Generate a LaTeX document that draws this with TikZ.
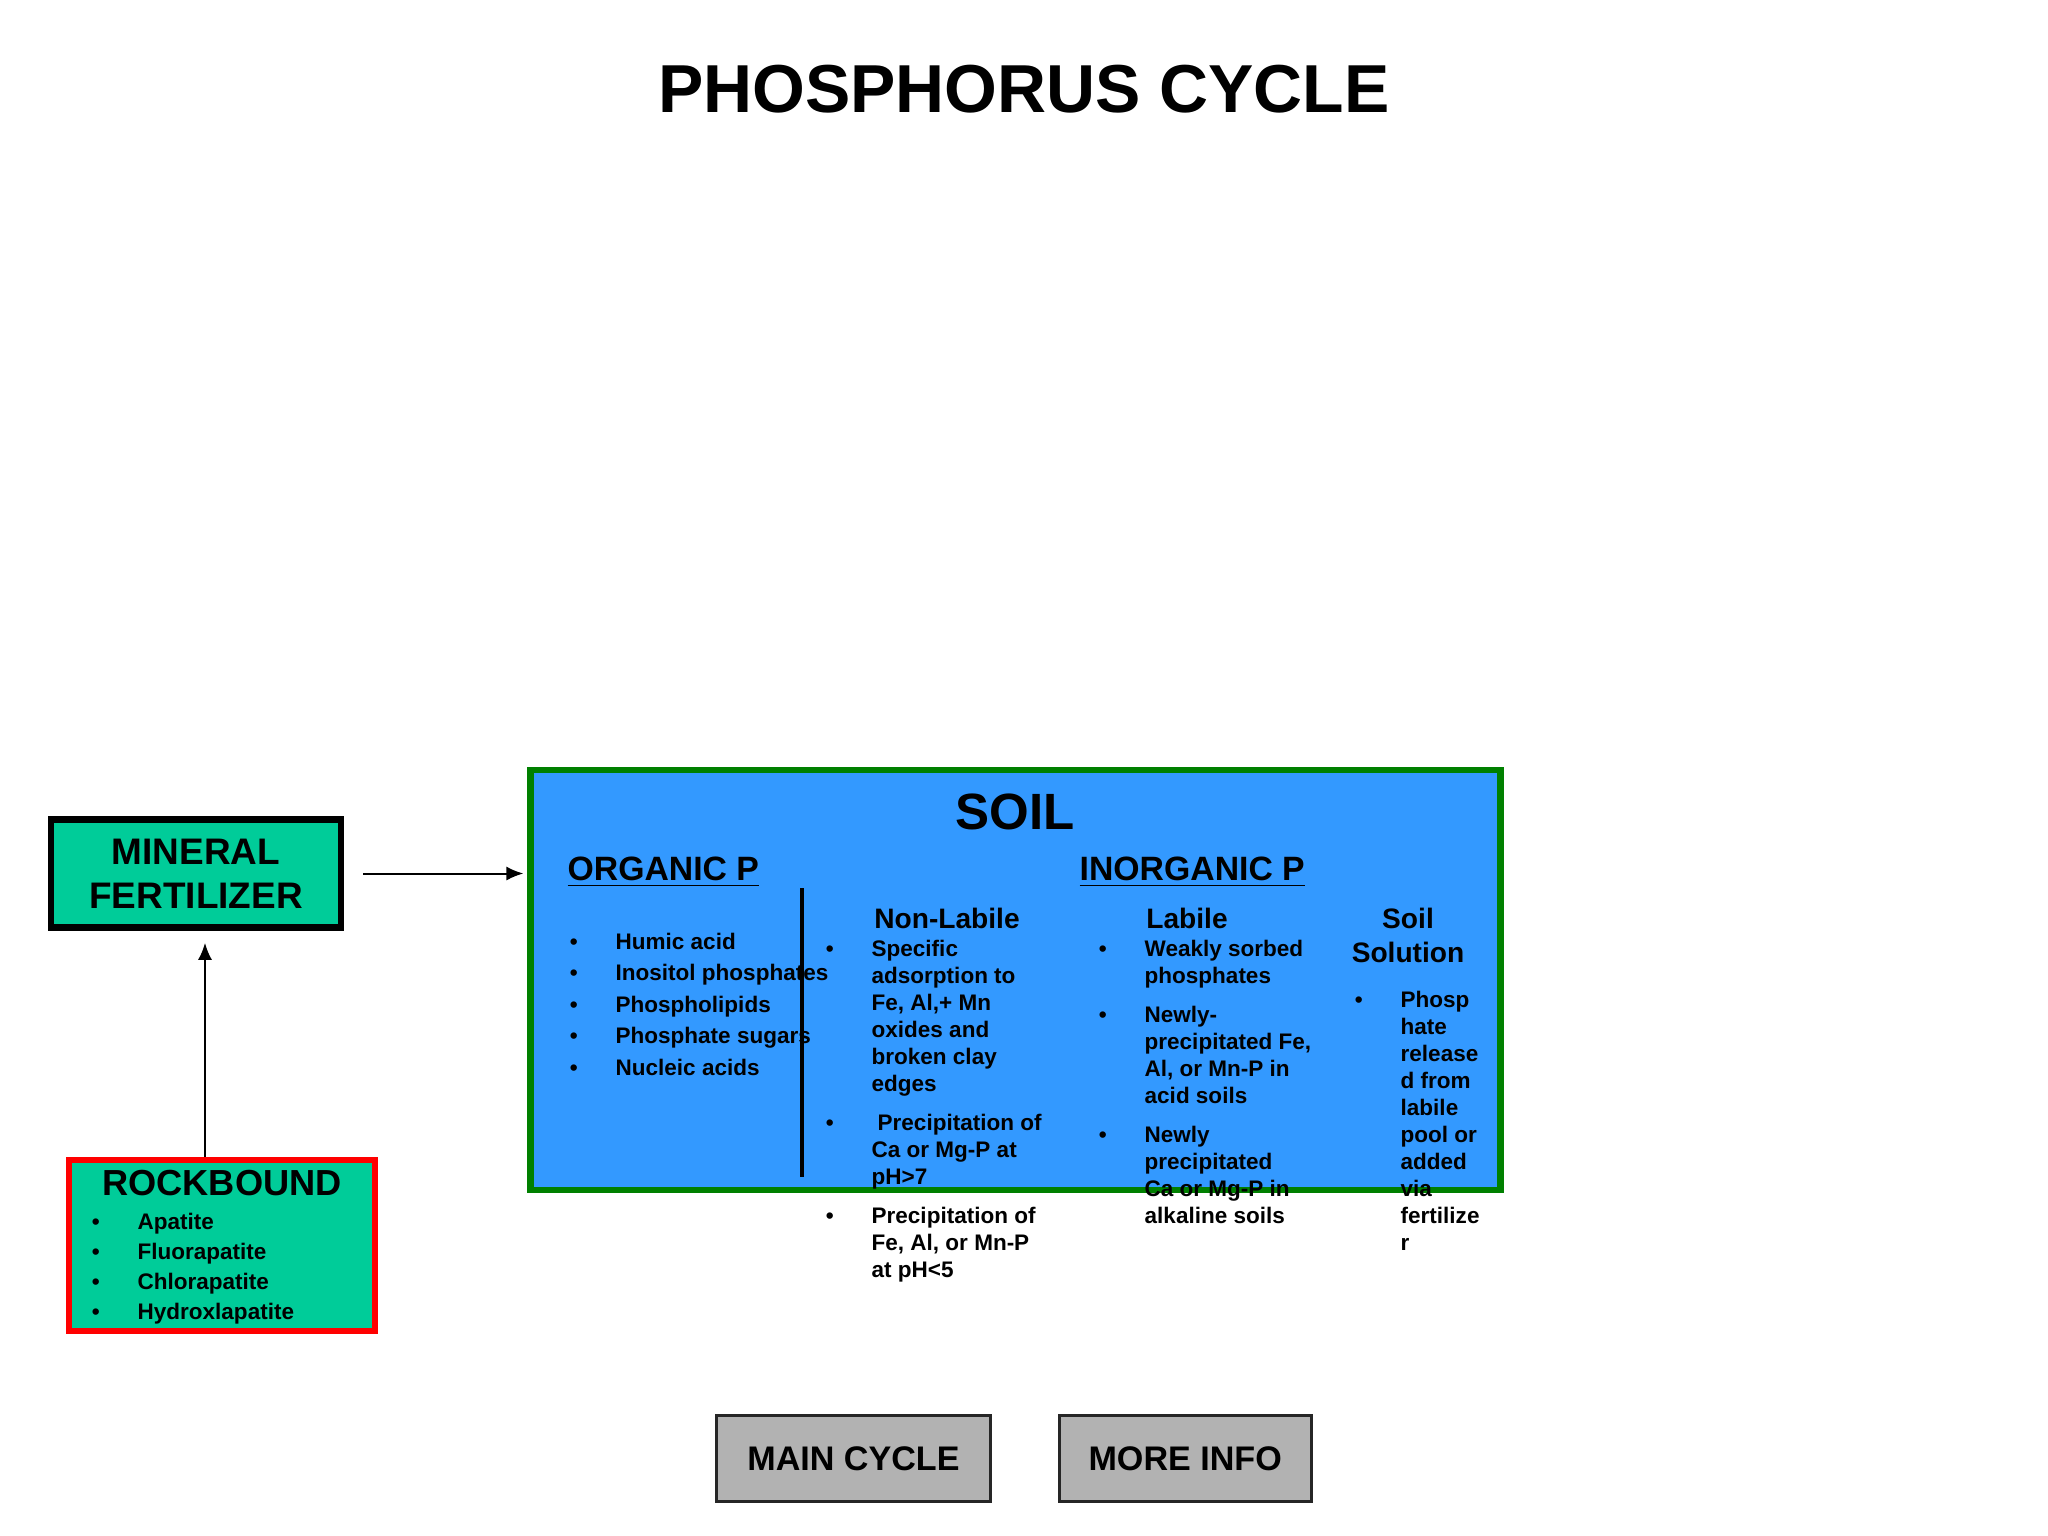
\documentclass[tikz,border=0pt]{standalone}
\usepackage{fontspec}
\setmainfont{Liberation Sans}
\usetikzlibrary{arrows.meta,positioning}

\definecolor{soilblue}{RGB}{51,153,255}
\definecolor{soilgreen}{RGB}{0,128,0}
\definecolor{rockteal}{RGB}{0,204,153}
\definecolor{btngray}{RGB}{178,178,178}
\newcommand{\bul}{\llap{\textbullet\hspace{0.38cm}}}
\newcommand{\fsz}[2]{\fontsize{#1}{#2}\selectfont\bfseries}

\begin{document}
\begin{tikzpicture}[x=0.01cm,y=-0.01cm,
    box/.style={draw,line width=0.065cm,fill=rockteal,inner sep=0pt},
    listtxt/.style={anchor=north west,inner sep=0pt,align=left,font=\fsz{6.4}{7.7}},
    colhead/.style={anchor=north,inner sep=0pt,align=center,font=\fsz{8}{9.7}},
    button/.style={draw=black!85,line width=0.03cm,fill=btngray,minimum width=2.73cm,minimum height=0.85cm,font=\fsz{9.7}{11}},
    flow/.style={line width=0.02cm,-{Latex[length=0.17cm,width=0.14cm]}}]
        \useasboundingbox (0,0) rectangle (2048,1536);
        \node[font=\fsz{19.3}{22}] (title) at (1024,89) {PHOSPHORUS CYCLE};

        % soil pool
        \node[draw=soilgreen,line width=0.065cm,fill=soilblue,minimum width=9.69cm,minimum height=4.2cm] (soil) at (1015.5,980) {};
        \node[font=\fsz{14.5}{16}] (soiltitle) at (1015,812) {SOIL};
        \node[anchor=north west,inner sep=0pt,font=\fsz{9.6}{11}] (organic) at (567,856) {\underline{ORGANIC P}};
        \node[anchor=north west,inner sep=0pt,font=\fsz{9.6}{11}] (inorganic) at (1079,856) {\underline{INORGANIC P}};
        \draw[line width=0.04cm] (802,888) -- (802,1177);
        \node[listtxt,font=\fsz{6.4}{8.96}] (orglist) at (615,932) {\bul Humic acid\\\bul Inositol phosphates\\\bul Phospholipids\\\bul Phosphate sugars\\\bul Nucleic acids};

        \node[colhead] (nonlabhead) at (947,907) {Non-Labile};
        \node[listtxt] (nonlablist) at (871,939) {\bul Specific\\adsorption to\\Fe, Al,+ Mn\\oxides and\\broken clay\\edges\\[0.12cm]\bul\hspace{0.06cm}Precipitation of\\Ca or Mg-P at\\pH>7\\[0.12cm]\bul Precipitation of\\Fe, Al, or Mn-P\\at pH<5};

        \node[colhead] (labhead) at (1187,907) {Labile};
        \node[listtxt] (lablist) at (1144,939) {\bul Weakly sorbed\\phosphates\\[0.12cm]\bul Newly-\\precipitated Fe,\\Al, or Mn-P in\\acid soils\\[0.12cm]\bul Newly\\precipitated\\Ca or Mg-P in\\alkaline soils};

        \node[colhead] (solhead) at (1408,907) {Soil\\Solution};
        \node[listtxt] (sollist) at (1400,990) {\bul Phosp\\hate\\release\\d from\\labile\\pool or\\added\\via\\fertilize\\r};

        % sources
        \node[box,minimum width=2.9cm,minimum height=1.08cm,align=center,font=\fsz{10.5}{12.6}] (mineral) at (196,873.5) {MINERAL\\FERTILIZER};
        \node[box,draw=red,minimum width=3.06cm,minimum height=1.71cm] (rock) at (222,1245.5) {};
        \node[font=\fsz{10.3}{12}] (rockhead) at (222,1183) {ROCKBOUND};
        \node[listtxt,font=\fsz{6.4}{8.6}] (rocklist) at (137,1212) {\bul Apatite\\\bul Fluorapatite\\\bul Chlorapatite\\\bul Hydroxlapatite};

        \draw[flow,shorten <=0.19cm,shorten >=0.04cm] (mineral.east) -- (mineral.east -| soil.west);
        \coordinate (rocktop) at ([xshift=-0.17cm]rock.north);
        \draw[flow,shorten >=0.12cm] (rocktop) -- (rocktop |- mineral.south);

        % links
        \node[button] (maincycle) at (853.5,1458.5) {MAIN CYCLE};
        \node[button,minimum width=2.52cm,right=0.66cm of maincycle] (moreinfo) {MORE INFO};
    \end{tikzpicture}
\end{document}
